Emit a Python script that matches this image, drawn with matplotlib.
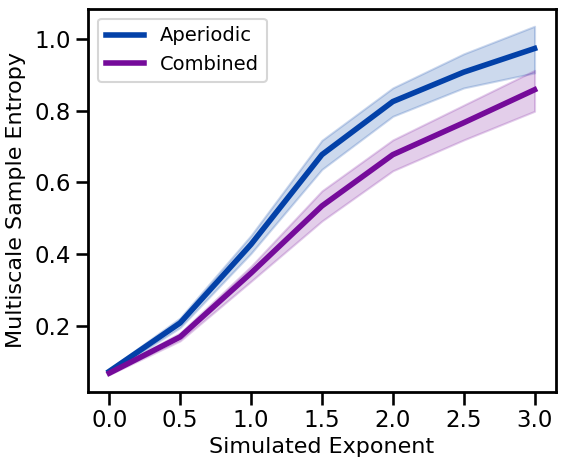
import matplotlib
matplotlib.use('Agg')
import matplotlib.pyplot as plt
import seaborn as sns
import numpy as np

sns.set_context('talk')

exponents = [0.0, 0.5, 1.0, 1.5, 2.0, 2.5, 3.0]

aperiodic = [0.073, 0.208, 0.427, 0.677, 0.825, 0.907, 0.973]
aperiodic_lo = [0.068, 0.195, 0.402, 0.636, 0.784, 0.863, 0.905]
aperiodic_hi = [0.079, 0.222, 0.452, 0.717, 0.863, 0.958, 1.035]

combined = [0.068, 0.169, 0.347, 0.534, 0.677, 0.766, 0.858]
combined_lo = [0.064, 0.158, 0.324, 0.492, 0.632, 0.718, 0.798]
combined_hi = [0.073, 0.180, 0.366, 0.576, 0.718, 0.815, 0.912]

blue = '#0341a8'
purple = '#750b9a'

fig, ax = plt.subplots(figsize=(5.66, 4.65), dpi=100)
ax.plot(exponents, aperiodic, color=blue, lw=4, label='Aperiodic')
ax.fill_between(exponents, aperiodic_lo, aperiodic_hi, color=blue, alpha=0.2)
ax.plot(exponents, combined, color=purple, lw=4, label='Combined')
ax.fill_between(exponents, combined_lo, combined_hi, color=purple, alpha=0.2)

ax.set_xticks(exponents)
ax.set_yticks([0.2, 0.4, 0.6, 0.8, 1.0])
ax.set_xlabel('Simulated Exponent', fontsize=16, labelpad=3)
ax.set_ylabel('Multiscale Sample Entropy', fontsize=16, labelpad=6)
ax.tick_params(labelsize=16.5)
for s in ax.spines.values():
    s.set_linewidth(2)
ax.legend(loc='upper left', fontsize=14)

fig.subplots_adjust(left=0.1555, right=0.982, top=0.981, bottom=0.157)
plt.savefig('out.png', dpi=100)
